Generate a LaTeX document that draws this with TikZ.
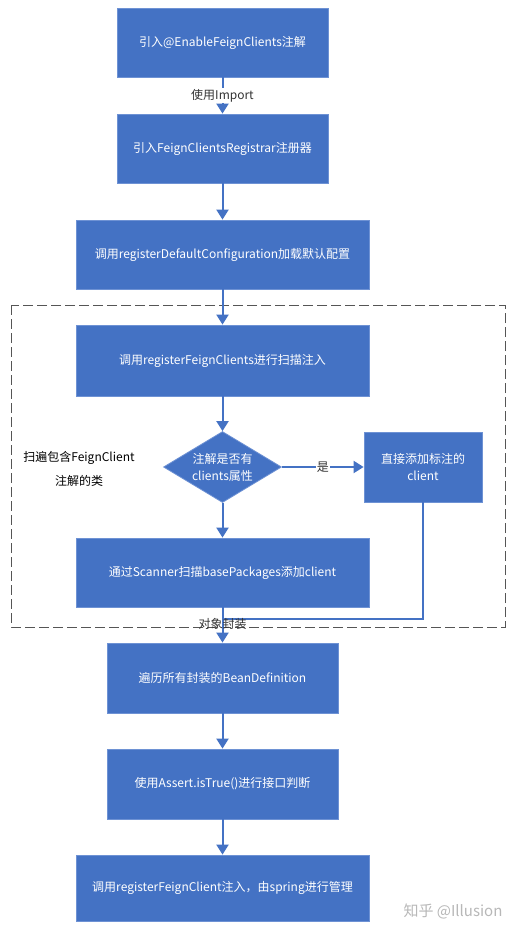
\documentclass[tikz,border=0pt]{standalone}
\usepackage{fontspec}
\setmainfont{Noto Sans CJK SC}
\usetikzlibrary{arrows.meta,shapes.geometric}
\definecolor{boxblue}{HTML}{4472C4}
\definecolor{boxedge}{HTML}{6E92D4}
\definecolor{lbl}{HTML}{333333}
\definecolor{dashgray}{HTML}{555555}
\begin{document}
\begin{tikzpicture}[x=1pt,y=-1pt,
  stepbox/.style={draw=boxedge, line width=0.8pt, fill=boxblue, text=white, inner sep=0pt,
    font=\fontsize{12}{17}\selectfont, align=center},
  decide/.style={diamond, aspect=1.66, draw=boxedge, line width=0.8pt, fill=boxblue, text=white,
    inner sep=0pt, font=\fontsize{12}{17}\selectfont, align=center, minimum width=118pt, minimum height=71pt},
  flow/.style={draw=boxblue, line width=2pt, -{Triangle[width=12pt,length=10pt]}},
  plain/.style={draw=boxblue, line width=2pt},
  lab/.style={fill=white, text=lbl, inner sep=1pt, font=\fontsize{12}{14}\selectfont},
  side/.style={text=black, inner sep=0pt, align=center, font=\fontsize{12}{24}\selectfont},
  group/.style={draw=dashgray, line width=0.9pt, dash pattern=on 10pt off 4pt}
]
\useasboundingbox[fill=white] (0,0) rectangle (517,934);

\draw[group] (11,305) rectangle (505,627);

\node[stepbox, minimum width=211pt, minimum height=69pt] (b1) at (222.5,42.5) {引入@EnableFeignClients注解};
\node[stepbox, minimum width=211pt, minimum height=69pt] (b2) at (222.5,148.5) {引入FeignClientsRegistrar注册器};
\node[stepbox, minimum width=293pt, minimum height=69pt] (b3) at (222.5,254.5) {调用registerDefaultConfiguration加载默认配置};
\node[stepbox, minimum width=293pt, minimum height=71pt] (b4) at (222.5,360.5) {调用registerFeignClients进行扫描注入};
\node[decide] (d) at (222.5,467) {注解是否有\\clients属性};
\node[stepbox, minimum width=118pt, minimum height=70pt] (rb) at (423,467) {直接添加标注的\\client};
\node[stepbox, minimum width=293pt, minimum height=69pt] (b5) at (222.5,572.5) {通过Scanner扫描basePackages添加client};
\node[stepbox, minimum width=231pt, minimum height=70pt] (b6) at (222.5,678) {遍历所有封装的BeanDefinition};
\node[stepbox, minimum width=231pt, minimum height=70pt] (b7) at (222.5,784) {使用Assert.isTrue()进行接口判断};
\node[stepbox, minimum width=293pt, minimum height=66pt] (b8) at (222.5,888) {调用registerFeignClient注入，由spring进行管理};

\node[side] (s) at (79,469) {扫遍包含FeignClient\\注解的类};

\coordinate (j) at (222.5,619);

\draw[flow] (b1) -- node[lab] {使用Import} (b2);
\draw[flow] (b2) -- (b3);
\draw[flow] (b3) -- (b4);
\draw[flow] (b4) -- (d);
\draw[flow] (d) -- node[lab] {是} (rb);
\draw[flow] (d) -- (b5);
\draw[plain] (rb.south) |- (j);
\draw[flow] (b5) -- (b6);
\node[text=lbl, inner sep=0pt, font=\fontsize{12}{14}\selectfont] (obj) at (222.5,624) {对象封装};
\draw[flow] (b6) -- (b7);
\draw[flow] (b7) -- (b8);

\node[text=black!28, inner sep=0pt, font=\fontsize{15}{17}\selectfont] (wm) at (453,911) {知乎 @Illusion};
\end{tikzpicture}
\end{document}
